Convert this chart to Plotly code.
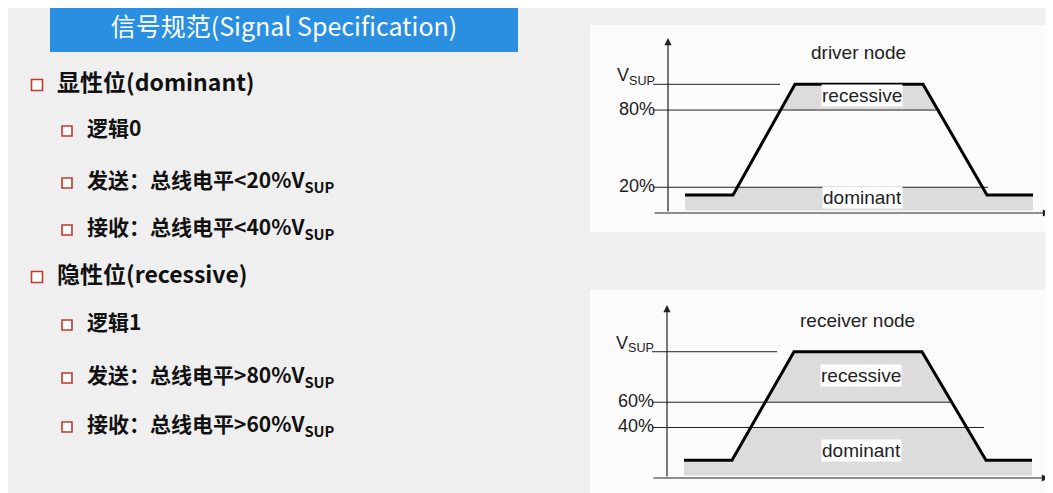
import plotly.graph_objects as go

W, H = 1053, 493
OFF = 8  # page body margin
FW, FH = W - OFF, H - OFF
# ---- data ----
t = [17, 65, 127, 255, 319, 365]          # signal time points (arb. units)
drv_level = [14, 14, 100, 100, 14, 14]     # driver output, % of VSUP
rcv_level = [14, 14, 100, 100, 14, 14]     # receiver input, % of VSUP
drv_thr_labels = ["V<sub>SUP</sub>", "80%", "20%"]
drv_thr = [100, 80, 20]
rcv_thr_labels = ["V<sub>SUP</sub>", "60%", "40%"]
rcv_thr = [100, 60, 40]
drv_thr_end = [112, 272, 320]
rcv_thr_end = [110, 285, 317]
bullet_level = [1, 2, 2, 2, 1, 2, 2, 2]
bullet_text = ["显性位(dominant)", "逻辑0", "发送：总线电平<20%V<sub>SUP</sub>", "接收：总线电平<40%V<sub>SUP</sub>",
               "隐性位(recessive)", "逻辑1", "发送：总线电平>80%V<sub>SUP</sub>", "接收：总线电平>60%V<sub>SUP</sub>"]
bullet_y = [85, 131, 183, 230, 277, 325, 378, 427]
title = "信号规范(Signal Specification)"

FONT = "Noto Sans CJK SC"
LAT = "Liberation Sans"
fig = go.Figure()
fig.update_layout(width=FW, height=FH, margin=dict(l=0, r=0, t=0, b=0),
                  paper_bgcolor="#efefef", plot_bgcolor="rgba(0,0,0,0)",
                  showlegend=False, font=dict(family=FONT))

def px(x): return (x - OFF) / FW
def py(y): return 1 - (y - OFF) / FH

shapes, anns = [], []
shapes.append(dict(type="rect", xref="paper", yref="paper", x0=px(590), x1=1, y0=py(232), y1=py(25),
                   fillcolor="#fbfbfb", line_width=0, layer="below"))
shapes.append(dict(type="rect", xref="paper", yref="paper", x0=px(590), x1=1, y0=0, y1=py(290),
                   fillcolor="#fbfbfb", line_width=0, layer="below"))
shapes.append(dict(type="rect", xref="paper", yref="paper", x0=px(50), x1=px(518), y0=py(52), y1=py(7),
                   fillcolor="#2a8fe0", line_width=0, layer="below"))

# pixel-space text layer
fig.update_layout(xaxis3=dict(domain=[0, 1], range=[OFF, W], visible=False, anchor="y3", fixedrange=True),
                  yaxis3=dict(domain=[0, 1], range=[H, OFF], visible=False, anchor="x3", fixedrange=True))
fig.add_trace(go.Scatter(x=[284], y=[30], mode="text", text=[title], textposition="middle center",
                         textfont=dict(size=25, color="white", family=FONT), xaxis="x3", yaxis="y3"))
for lvl, y in zip(bullet_level, bullet_y):
    bx = 37 if lvl == 1 else 67
    s = 11 if lvl == 1 else 10
    shapes.append(dict(type="rect", xref="paper", yref="paper", x0=px(bx - s/2), x1=px(bx + s/2),
                       y0=py(y + s/2), y1=py(y - s/2), line=dict(color="#c0392b", width=1.6),
                       fillcolor="white"))
for sz, lv in ((23, 1), (21, 2)):
    idx = [i for i, l in enumerate(bullet_level) if l == lv]
    fig.add_trace(go.Scatter(x=[(37 if lv == 1 else 67) + 20] * len(idx), y=[bullet_y[i] for i in idx],
                             mode="text", text=["<b>" + bullet_text[i] + "</b>" for i in idx],
                             textposition="middle right", textfont=dict(size=sz, color="#111", family=FONT),
                             xaxis="x3", yaxis="y3"))

def diagram(ix, levels, thr, labels, thr_end, name, xdom, ydom, ymax):
    xa, ya = ("x", "y") if ix == 1 else ("x2", "y2")
    fig.update_layout(**{("xaxis" if ix == 1 else "xaxis2"): dict(domain=xdom, range=[-60, 382], visible=False, fixedrange=True, anchor=ya),
                         ("yaxis" if ix == 1 else "yaxis2"): dict(domain=ydom, range=[0, ymax], visible=False, fixedrange=True, anchor=xa)})
    hi_t, lo_t = thr[1], thr[2]
    def cross(lv, seg):
        i = 1 if seg == 0 else 3
        return t[i] + (lv - levels[i]) / (levels[i+1] - levels[i]) * (t[i+1] - t[i])
    fig.add_trace(go.Scatter(x=[cross(hi_t, 0), t[2], t[3], cross(hi_t, 1)], y=[hi_t, 100, 100, hi_t],
                             fill="toself", fillcolor="#dcdcdc", line_width=0, mode="lines", xaxis=xa, yaxis=ya))
    fig.add_trace(go.Scatter(x=[t[0], t[0], t[1], cross(lo_t, 0), cross(lo_t, 1), t[4], t[5], t[5]],
                             y=[2, levels[0], levels[1], lo_t, lo_t, levels[4], levels[5], 2],
                             fill="toself", fillcolor="#dcdcdc", line_width=0, mode="lines", xaxis=xa, yaxis=ya))
    for v, e in zip(thr, thr_end):
        fig.add_trace(go.Scatter(x=[-15, e], y=[v, v], mode="lines", line=dict(color="#222", width=1), xaxis=xa, yaxis=ya))
    fig.add_trace(go.Scatter(x=[-13] * 3, y=[v + (6 if v == 100 else 0) for v in thr], mode="text", text=labels,
                             textposition="middle left", textfont=dict(size=18, color="#222", family=LAT),
                             xaxis=xa, yaxis=ya))
    fig.add_trace(go.Scatter(x=t, y=levels, mode="lines", line=dict(color="black", width=3), xaxis=xa, yaxis=ya))
    anns.append(dict(xref=xa, yref=ya, axref=xa, ayref=ya, x=0, y=ymax, ax=0, ay=0, showarrow=True,
                     arrowhead=2, arrowsize=1.2, arrowwidth=1.2, arrowcolor="#222", text=""))
    anns.append(dict(xref=xa, yref=ya, axref=xa, ayref=ya, x=382, y=0, ax=-15, ay=0, showarrow=True,
                     arrowhead=2, arrowsize=1.2, arrowwidth=1.2, arrowcolor="#222", text=""))
    anns.append(dict(xref=xa, yref=ya, x=190, y=125, text=name, showarrow=False,
                     font=dict(size=19, color="#222", family=LAT)))
    anns.append(dict(xref=xa, yref=ya, x=194, y=(100 + hi_t) / 2 + 1, text="recessive", showarrow=False,
                     bgcolor="white", borderpad=0, font=dict(size=19, color="#222", family=LAT)))
    anns.append(dict(xref=xa, yref=ya, x=194, y=(lo_t + 2) / 2 + 1, text="dominant", showarrow=False,
                     bgcolor="white", borderpad=0, font=dict(size=19, color="#222", family=LAT)))

diagram(1, drv_level, drv_thr, drv_thr_labels, drv_thr_end, "driver node", [px(608), px(1050)], [py(213), py(38)], 136)
diagram(2, rcv_level, rcv_thr, rcv_thr_labels, rcv_thr_end, "receiver node", [px(607), px(1049)], [py(478), py(305)], 137)

fig.update_layout(shapes=shapes, annotations=anns)
fig.write_html("out.html")
